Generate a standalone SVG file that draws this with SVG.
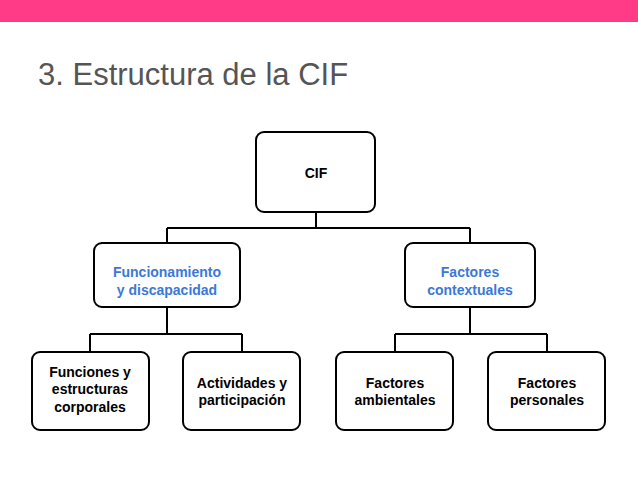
<svg xmlns="http://www.w3.org/2000/svg" width="638" height="479" viewBox="0 0 638 479">
<style>
.box{fill:#fff;stroke:#000;stroke-width:2}
.t{font-family:"Liberation Sans",Arial,sans-serif;font-weight:bold;font-size:14px;text-anchor:middle;fill:#000}
.b{fill:#3b78d8}
.c{fill:none;stroke:#000;stroke-width:2}
</style>
<rect x="0" y="0" width="638" height="479" fill="#fff"/>
<rect x="0" y="0" width="638" height="22" fill="#ff3b87"/>
<text x="38" y="85" font-family="Liberation Sans,Arial,sans-serif" font-size="31" fill="#555">3. Estructura de la CIF</text>
<g id="connectors">
<path class="c" d="M316 212V228M167 228H470M167 228V243M470 228V243"/>
<path class="c" d="M167 307V334M90 334H242M90 334V352M242 334V352"/>
<path class="c" d="M470 307V334M395 334H547M395 334V352M547 334V352"/>
</g>
<g id="cif"><rect class="box" x="256" y="132" width="119" height="80" rx="8"/><text class="t" x="316" y="178" font-size="16">CIF</text></g>
<g id="func"><rect class="box" x="94" y="243" width="146" height="64" rx="8"/><text class="t b" x="167" y="277">Funcionamiento</text><text class="t b" x="167" y="295">y discapacidad</text></g>
<g id="ctx"><rect class="box" x="405" y="243" width="130" height="64" rx="8"/><text class="t b" x="470" y="277">Factores</text><text class="t b" x="470" y="295">contextuales</text></g>
<g id="funciones"><rect class="box" x="32" y="352" width="117" height="78" rx="8"/><text class="t" x="90" y="377">Funciones y</text><text class="t" x="90" y="394">estructuras</text><text class="t" x="90" y="412">corporales</text></g>
<g id="actividades"><rect class="box" x="183" y="352" width="117" height="78" rx="8"/><text class="t" x="242" y="388">Actividades y</text><text class="t" x="242" y="405">participación</text></g>
<g id="ambientales"><rect class="box" x="336" y="352" width="117" height="78" rx="8"/><text class="t" x="395" y="388">Factores</text><text class="t" x="395" y="405">ambientales</text></g>
<g id="personales"><rect class="box" x="488" y="352" width="117" height="78" rx="8"/><text class="t" x="547" y="388">Factores</text><text class="t" x="547" y="405">personales</text></g>
</svg>
